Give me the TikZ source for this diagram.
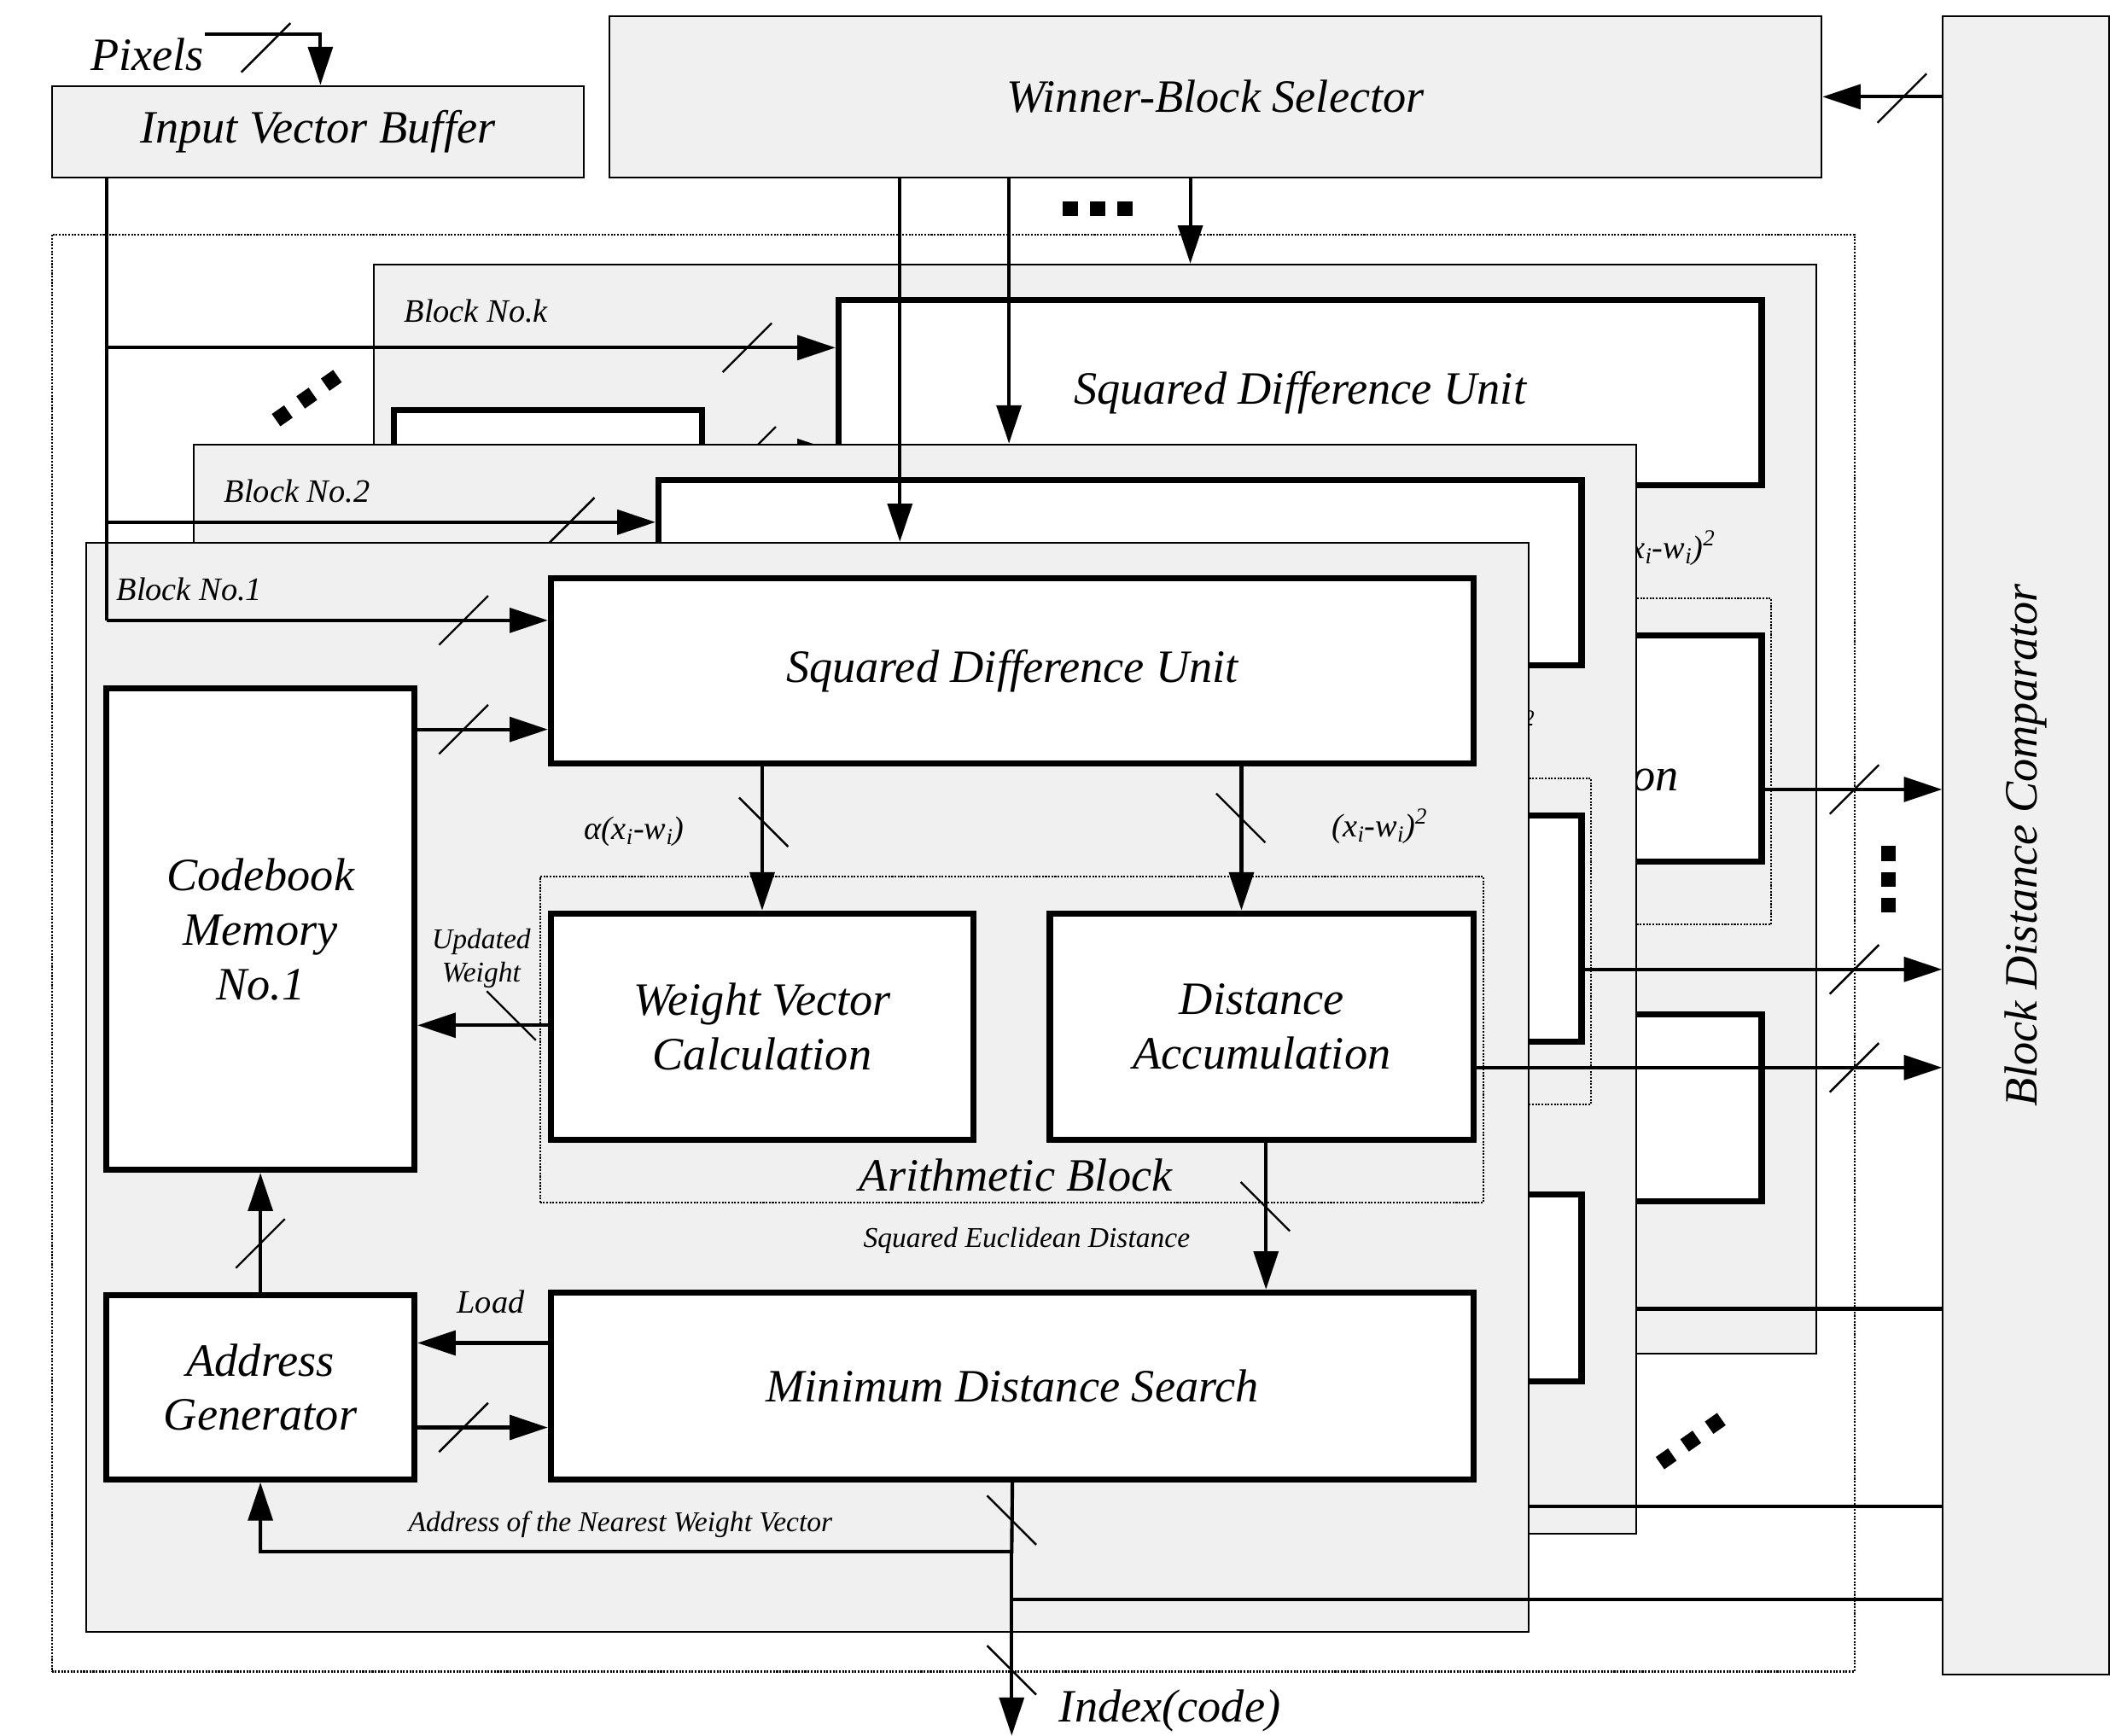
\documentclass[tikz,border=0pt]{standalone}
\usepackage{fontspec}
\setmainfont{Liberation Serif}
\usetikzlibrary{arrows.meta,positioning}

\tikzset{
  blk/.style={draw, fill=gray!12, line width=1.3pt},
  unit/.style={draw, fill=white, line width=4.5pt, align=center, inner sep=0pt,
    font=\itshape\fontsize{34}{40}\selectfont},
  big/.style={font=\itshape\fontsize{34}{40}\selectfont, align=center},
  lbl/.style={font=\itshape\fontsize{24}{28}\selectfont, align=center},
  sml/.style={font=\itshape\fontsize{21}{24}\selectfont, align=center},
  ar/.style={line width=2.6pt, -{Triangle[length=28pt,width=18pt]}},
  ln/.style={line width=2.6pt},
  dotbox/.style={draw, densely dotted, line width=1.3pt},
  sq/.style={fill, minimum size=11pt, inner sep=0pt},
  slsh/.pic={\draw[line width=1.5pt] (-18,18) -- (18,-18);},
  bslsh/.pic={\draw[line width=1.5pt] (-18,-18) -- (18,18);}
}

% one processing block, drawn in the coordinates of block 1
\newcommand{\vqblock}[2]{%
  \node[blk, minimum width=1058pt, minimum height=799pt] (#1) at (592,797.5) {};
  \node[lbl, anchor=west] at (82,432) {Block No.#2};
  \node[unit, minimum width=677pt, minimum height=136pt] (#1sdu) at (742.5,492) {Squared Difference Unit};
  \node[unit, minimum width=226pt, minimum height=353pt] (#1cm) at (191,681.5) {Codebook\\Memory\\No.#2};
  \node[unit, minimum width=310pt, minimum height=166pt] (#1wvc) at (559,753) {Weight Vector\\Calculation};
  \node[unit, minimum width=311pt, minimum height=166pt] (#1da) at (925.5,753) {Distance\\Accumulation};
  \node[dotbox, minimum width=692pt, minimum height=239pt] (#1ab) at (742,762.5) {};
  \node[big] at (745,862) {Arithmetic Block};
  \node[unit, minimum width=226pt, minimum height=135pt] (#1ag) at (191,1017.5) {Address\\Generator};
  \node[unit, minimum width=677pt, minimum height=137pt] (#1mds) at (742.5,1016.5) {Minimum Distance Search};
  \draw[ar] (#1cm.east |- 0,535) -- (#1sdu.west |- 0,535);
  \pic at (340,535) {slsh};
  \draw[ar] (#1sdu.south -| #1wvc) -- (#1wvc.north);
  \pic at (560,603) {bslsh};
  \node[lbl] at (465,610) {α(x\textsubscript{i}-w\textsubscript{i})};
  \draw[ar] ([xshift=-15pt]#1da.north |- #1sdu.south) -- ([xshift=-15pt]#1da.north);
  \pic at (910,600) {bslsh};
  \node[lbl] at (1012,606) {(x\textsubscript{i}-w\textsubscript{i})\textsuperscript{2}};
  \draw[ar] (#1wvc.west |- 0,752) -- (#1cm.east |- 0,752);
  \pic at (375,745) {bslsh};
  \node[sml] at (353,703) {Updated\\Weight};
  \draw[ar] ([xshift=3pt]#1da.south) -- ([xshift=3pt]#1da.south |- #1mds.north);
  \pic at (928,885) {bslsh};
  \node[sml] at (753,910) {Squared Euclidean Distance};
  \draw[ar] (#1mds.west |- 0,985) -- (#1ag.east |- 0,985);
  \node[lbl] at (360,955) {Load};
  \draw[ar] (#1ag.east |- 0,1047) -- (#1mds.west |- 0,1047);
  \pic at (340,1047) {slsh};
  \draw[ar] (#1ag.north) -- (#1cm.south);
  \pic at (191,912) {slsh};
  \coordinate (#1j) at (742,1138);
  \draw[ar] (#1mds.south) -- (#1j) -| (#1ag.south);
  \pic at (742,1115) {bslsh};
  \node[sml] at (455,1118) {Address of the Nearest Weight Vector};
}

\begin{document}
\begin{tikzpicture}[x=1pt, y=-1pt]
  \useasboundingbox (0,0) rectangle (1560,1273);

  \node[blk, minimum width=390pt, minimum height=67pt, big] (buf) at (233,96.5) {Input Vector Buffer};
  \node[blk, minimum width=889pt, minimum height=118pt, big] (wbs) at (891.5,71) {Winner-Block Selector};
  \node[blk, minimum width=122pt, minimum height=1216pt] (bdc) at (1486,620) {};
  \node[big, rotate=90] at (1486,620) {Block Distance Comparator};
  \node[big] at (108,40) {Pixels};
  \coordinate (pix) at (150,25);
  \draw[ar] (pix) -| (buf.north -| 235,0);
  \pic at (195,35) {slsh};
  \draw[ar] (bdc.west |- wbs) -- (wbs.east);
  \pic at (1395,72) {slsh};

  \node[dotbox, minimum width=1322pt, minimum height=1054pt] (outer) at (699,699) {};

  % block k
  \begin{scope}[shift={(211,-204)}]
    \vqblock{bk}{k}
  \end{scope}
  \draw[ar] (wbs.south -| 873,0) -- (bk.north -| 873,0);
  \coordinate (vin) at (78,130);
  \draw[ar] (vin |- 0,255) -- (bksdu.west |- 0,255);
  \pic at (548,255) {slsh};

  % block 2
  \begin{scope}[shift={(79,-72)}]
    \vqblock{b2}{2}
  \end{scope}
  \draw[ar] (wbs.south -| 740,0) -- (b2.north -| 740,0);
  \draw[ar] (vin |- 0,383) -- (b2sdu.west |- 0,383);
  \pic at (418,383) {slsh};

  % block 1
  \vqblock{b1}{1}
  \draw[ar] (wbs.south -| 660,0) -- (b1.north -| 660,0);
  \draw[ar] (vin |- 0,455) -- (b1sdu.west |- 0,455);
  \pic at (340,455) {slsh};
  \draw[ln] (buf.south -| vin) -- (vin |- 0,455);

  % outputs to the comparator
  \draw[ar] ([yshift=-30pt]bkda.east) -- ([yshift=-30pt]bkda.east -| bdc.west);
  \pic at (1360,579) {slsh};
  \draw[ar] ([yshift=-30pt]b2da.east) -- ([yshift=-30pt]b2da.east -| bdc.west);
  \pic at (1360,711) {slsh};
  \draw[ar] ([yshift=-30pt]b1da.east) -- ([yshift=-30pt]b1da.east -| bdc.west);
  \pic at (1360,783) {slsh};
  \draw[ln] (b2.east |- 0,960) -- (bdc.west |- 0,960);
  \draw[ln] (b1.east |- 0,1105) -- (bdc.west |- 0,1105);
  \draw[ln] (b1j |- 0,1173) -- (bdc.west |- 0,1173);
  \coordinate (idx) at (742,1273);
  \draw[ar] (b1j) -- (idx);
  \pic at (742,1225) {bslsh};
  \node[big] at (858,1255) {Index(code)};

  % ellipsis marks
  \foreach \i in {-1,0,1} {
    \node[sq, rotate=35] at (225+\i*18, 292-\i*13) {};
    \node[sq, rotate=35] at (1240+\i*18, 1057-\i*13) {};
    \node[sq] at (805+\i*20, 153) {};
    \node[sq] at (1385, 645+\i*19) {};
  }
\end{tikzpicture}
\end{document}
